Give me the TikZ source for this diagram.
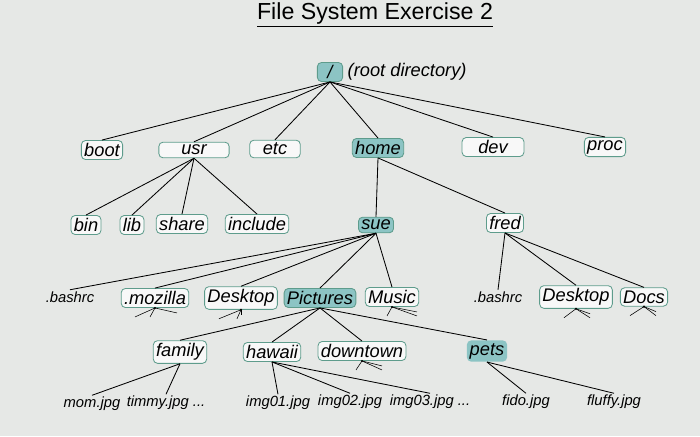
\documentclass[tikz,border=0pt]{standalone}
\usepackage{fontspec}
\setmainfont{Liberation Sans}
\usepackage{tikz}
\usetikzlibrary{positioning}
\definecolor{boxline}{HTML}{5E9C8C}
\definecolor{boxfill}{HTML}{8CC4C4}
\definecolor{paper}{HTML}{E6E8E6}
\tikzset{
  dir/.style={draw=boxline,rounded corners=3pt,inner sep=2pt,font=\itshape\fontsize{13}{14}\selectfont,fill=white!70!paper},
  cur/.style={dir,fill=boxfill},
  file/.style={inner sep=1pt,font=\itshape\fontsize{10.5}{13}\selectfont},
  stub/.style={thin},
}
\begin{document}
\begin{tikzpicture}[x=0.025cm,y=-0.025cm,line width=0.6pt]
        \fill[paper](0,0)rectangle(700,436);
        \useasboundingbox(0,0)rectangle(700,436);
        \node[font=\fontsize{16.5}{20}\selectfont](title)at(375,15){\underline{File System Exercise 2}};

        % top level
        \node[cur,minimum width=18pt](root)at(330,72){/};
        \node[file,font=\itshape\fontsize{13}{14}\selectfont,right=2pt of root]{(root directory)};
        \node[dir](boot)at(102,150){boot};
        \node[dir,minimum width=50pt](usr)at(194,150){usr};
        \node[dir,minimum width=36pt](etc)at(275,149){etc};
        \node[cur](home)at(378,148){home};
        \node[dir,minimum width=44pt](dev)at(493,147){dev};
        \node[dir](proc)at(605,147){proc};
        \foreach \n in {boot,usr,etc,home,dev,proc}
            \draw(root.south)--(\n.north);

        % second level
        \node[dir](bin)at(86,225){bin};
        \node[dir](lib)at(132,225){lib};
        \node[dir](share)at(182,224){share};
        \node[dir](include)at(257,224){include};
        \node[cur](sue)at(376,225){sue};
        \node[dir](fred)at(505,223){fred};
        \foreach \n in {bin,lib,share,include}
            \draw(usr.south)--(\n.north);
        \draw(home.south)--(sue.north);
        \draw(home.south)--(fred.north);

        % home folders
        \node[file](bashrcA)at(70,297){.bashrc};
        \node[dir](mozilla)at(155,298){.mozilla};
        \node[dir](desktopA)at(241,298){Desktop};
        \node[cur](pictures)at(320,298){Pictures};
        \node[dir](music)at(392,297){Music};
        \node[file](bashrcB)at(498,297){.bashrc};
        \node[dir](desktopB)at(576,297){Desktop};
        \node[dir](docs)at(644,297){Docs};
        \foreach \n in {bashrcA,mozilla,desktopA,pictures,music}
            \draw(sue.south)--(\n.north);
        \foreach \n in {bashrcB,desktopB,docs}
            \draw(fred.south)--(\n.north);

        % pictures
        \node[dir](family)at(180,352){family};
        \node[dir](hawaii)at(272,352){hawaii};
        \node[dir](downtown)at(362,351){downtown};
        \node[cur,draw=none](pets)at(487,351){pets};
        \foreach \n in {family,hawaii,downtown,pets}
            \draw(pictures.south)--(\n.north);

        % files
        \node[file](mom)at(92,404){mom.jpg};
        \node[file](timmy)at(166,403){timmy.jpg ...};
        \node[file](imgA)at(278,403){img01.jpg};
        \node[file](imgB)at(350,402){img02.jpg};
        \node[file](imgC)at(430,402){img03.jpg ...};
        \node[file](fido)at(526,402){fido.jpg};
        \node[file](fluffy)at(614,402){fluffy.jpg};
        \draw(family.south)--(mom.north);
        \draw(family.south)--(timmy.north);
        \foreach \n in {imgA,imgB,imgC}
            \draw(hawaii.south)--(\n.north);
        \draw(pets.south)--(fido.north);
        \draw(pets.south)--(fluffy.north);

        % stubs of folded branches
        \foreach \n/\a/\b/\c in {mozilla/-20/-5/22,desktopA/-22/-4/0,music/-5/25/25,desktopB/-12/14/14,docs/-14/12/12,downtown/-6/20/20}{
            \fill(\n.south)circle(1.2);
            \draw[stub](\n.south)--++(\a,9);
            \draw[stub](\n.south)--++(\b,9);
            \draw[stub](\n.south)--++(\c,5);
        }
\end{tikzpicture}
\end{document}
